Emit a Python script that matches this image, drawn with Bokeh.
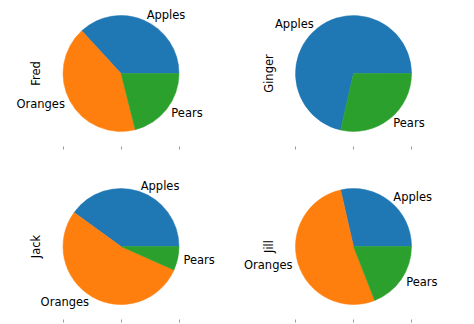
import numpy as np
from bokeh.plotting import figure
from bokeh.models import ColumnDataSource, LabelSet, FixedTicker
from bokeh.layouts import column, row
from bokeh.core.properties import field, value
from bokeh.embed import file_html
from bokeh.resources import INLINE

fruits = ["Apples", "Oranges", "Pears"]
people = ["Fred", "Ginger", "Jack", "Jill"]
fred = [7, 8, 4]
ginger = [5, 0, 2]
jack = [6, 8, 1]
jill = [6, 11, 4]
colors = ["#1f77b4", "#ff7f0e", "#2ca02c"]
xticks = [-1, 0, 1]

FONT = "DejaVu Sans"
FS = "11.5px"
S = 58.0  # pixels per data unit


def make_pie(name, vals, col_idx, row_idx):
    v = np.array(vals, dtype=float)
    frac = v / v.sum()
    ends = np.cumsum(frac) * 2 * np.pi
    starts = ends - frac * 2 * np.pi
    mids = (starts + ends) / 2
    keep = v > 0
    lx = 1.1 * np.cos(mids)
    ly = 1.1 * np.sin(mids)
    src = ColumnDataSource(dict(
        start=list(starts[keep]), end=list(ends[keep]),
        color=[c for c, k in zip(colors, keep) if k],
        label=[f for f, k in zip(fruits, keep) if k],
        lx=list(lx[keep]), ly=list(ly[keep]),
        align=["left" if x > 0 else "right" for x in lx[keep]],
    ))
    cx = 120.5 if col_idx == 0 else 116.0
    bt, bb = (0, 16) if row_idx == 0 else (11, 5)
    fw, fh = 237, 146
    p = figure(frame_width=fw, frame_height=fh,
               x_range=(-cx / S, (fw - cx) / S),
               y_range=(-fh / 2 / S, fh / 2 / S),
               min_border_left=0, min_border_right=0,
               min_border_top=bt, min_border_bottom=bb,
               output_backend="svg", toolbar_location=None,
               title=None)
    p.outline_line_color = None
    p.xgrid.visible = False
    p.ygrid.visible = False
    p.background_fill_color = "white"
    p.border_fill_color = "white"

    p.wedge(x=0, y=0, radius=1, start_angle="start", end_angle="end",
            direction="anticlock", fill_color="color", line_color="color",
            line_width=0.5, source=src)
    labels = LabelSet(x="lx", y="ly", text="label", source=src,
                      text_align=field("align"), text_baseline="middle",
                      text_font=value(FONT), text_font_size=FS,
                      text_color="black")
    p.add_layout(labels)

    xa = p.xaxis[0]
    xa.ticker = FixedTicker(ticks=xticks)
    xa.axis_line_color = None
    xa.major_tick_line_color = "#9a9a9a"
    xa.major_tick_out = 3
    xa.major_tick_in = 0
    xa.minor_tick_line_color = None
    xa.major_label_text_font_size = "1px"
    xa.major_label_text_color = None
    xa.major_label_standoff = 0

    ya = p.yaxis[0]
    ya.ticker = FixedTicker(ticks=[])
    ya.fixed_location = -1.25
    ya.axis_line_color = None
    ya.major_tick_line_color = None
    ya.minor_tick_line_color = None
    ya.major_label_text_font_size = "1px"
    ya.major_label_text_color = None
    ya.major_label_standoff = 0
    ya.axis_label = name
    ya.axis_label_text_font = FONT
    ya.axis_label_text_font_size = FS
    ya.axis_label_text_font_style = "normal"
    ya.axis_label_text_color = "black"
    ya.axis_label_standoff = 6
    return p


data = [fred, ginger, jack, jill]
plots = [make_pie(n, d, i % 2, i // 2) for i, (n, d) in enumerate(zip(people, data))]
layout = column(row(plots[0], plots[1]), row(plots[2], plots[3]))

open("out.html", "w").write(file_html(layout, INLINE))
